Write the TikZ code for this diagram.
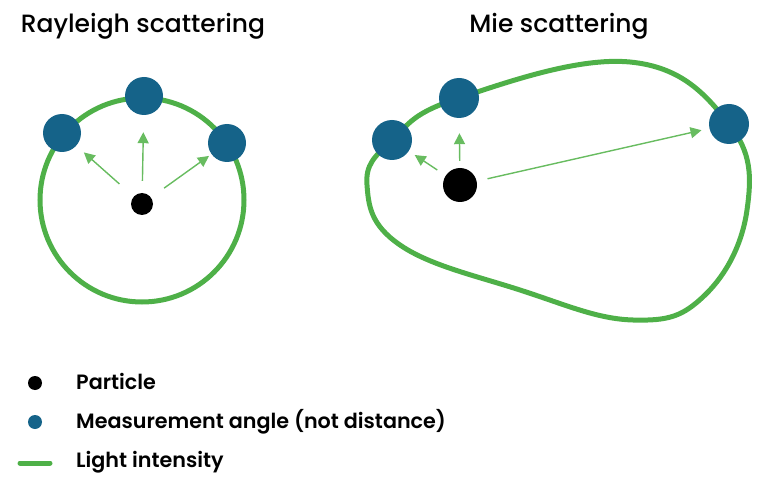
\documentclass[tikz,border=0pt]{standalone}
\usepackage{fontspec}
\setmainfont{Poppins}
\newfontfamily\titlefont{Poppins Medium}
\newfontfamily\legendfont{Poppins SemiBold}
\usetikzlibrary{arrows.meta, positioning}
\definecolor{lightgreen}{RGB}{78,176,72}
\definecolor{raygreen}{RGB}{104,188,96}
\definecolor{dotblue}{RGB}{21,99,137}

\begin{document}
\begin{tikzpicture}[x=1pt, y=-1pt, >={Triangle[length=11pt, width=11pt]},
  particle/.style={circle, fill=black, inner sep=0pt},
  angle/.style={circle, fill=dotblue, inner sep=0pt, minimum size=38pt},
  intensity/.style={draw=lightgreen, line width=5pt},
  ray/.style={->, draw=raygreen, fill=raygreen, line width=1.4pt},
  title/.style={font=\titlefont\fontsize{25}{30}\selectfont, anchor=base},
  legend/.style={font=\legendfont\fontsize{20.7}{24}\selectfont,
                 anchor=base west, inner sep=0pt}]
  \useasboundingbox (0,0) rectangle (768,489);

  % Titles
  \node[title] (rtitle) at (143,33) {Rayleigh scattering};
  \node[title] (mtitle) at (559,33) {Mie scattering};

  % Rayleigh: light intensity
  \draw[intensity] (142,200) circle[radius=102pt];

  % Rayleigh: particle and measurement angles
  \node[particle, minimum size=22pt] (rp) at (142,204) {};
  \node[angle] (ra1) at (62,133) {};
  \node[angle] (ra2) at (144,96) {};
  \node[angle] (ra3) at (227,143) {};

  \draw[ray, shorten <=19pt, shorten >=10pt] (rp) -- (ra1);
  \draw[ray, shorten <=12pt, shorten >=17pt] (rp) -- (ra2);
  \draw[ray, shorten <=16pt, shorten >=3pt] (rp) -- (ra3);

  % Mie: light intensity
  \draw[intensity] plot[smooth cycle, tension=0.7] coordinates {
    (367,185) (392,140) (459,98) (630,62) (729,124) (747,210)
    (705,295) (633,320) (520,290) (400,245)};

  % Mie: particle and measurement angles
  \node[particle, minimum size=34pt] (mp) at (460,185) {};
  \node[angle, minimum size=40pt] (ma1) at (392,140) {};
  \node[angle, minimum size=40pt] (ma2) at (459,98) {};
  \node[angle, minimum size=40pt] (ma3) at (729,124) {};

  \draw[ray, shorten <=10pt, shorten >=7pt] (mp) -- (ma1);
  \draw[ray, shorten <=7pt, shorten >=15pt] (mp) -- (ma2);
  \draw[ray, shorten <=11pt, shorten >=8pt] (mp) -- (ma3);

  % Legend
  \node[particle, minimum size=14pt] (kp) at (35,383) {};
  \node[angle, minimum size=14pt] (ka) at (35,422) {};
  \coordinate (kl1) at (20,463);
  \coordinate (kl2) at (50,463);
  \draw[intensity, line cap=round] (kl1) -- (kl2);

  \node[legend] (tp) at (76,389) {Particle};
  \node[legend] (ta) at (76,428) {Measurement angle (not distance)};
  \node[legend] (tl) at (76,467) {Light intensity};
\end{tikzpicture}
\end{document}
